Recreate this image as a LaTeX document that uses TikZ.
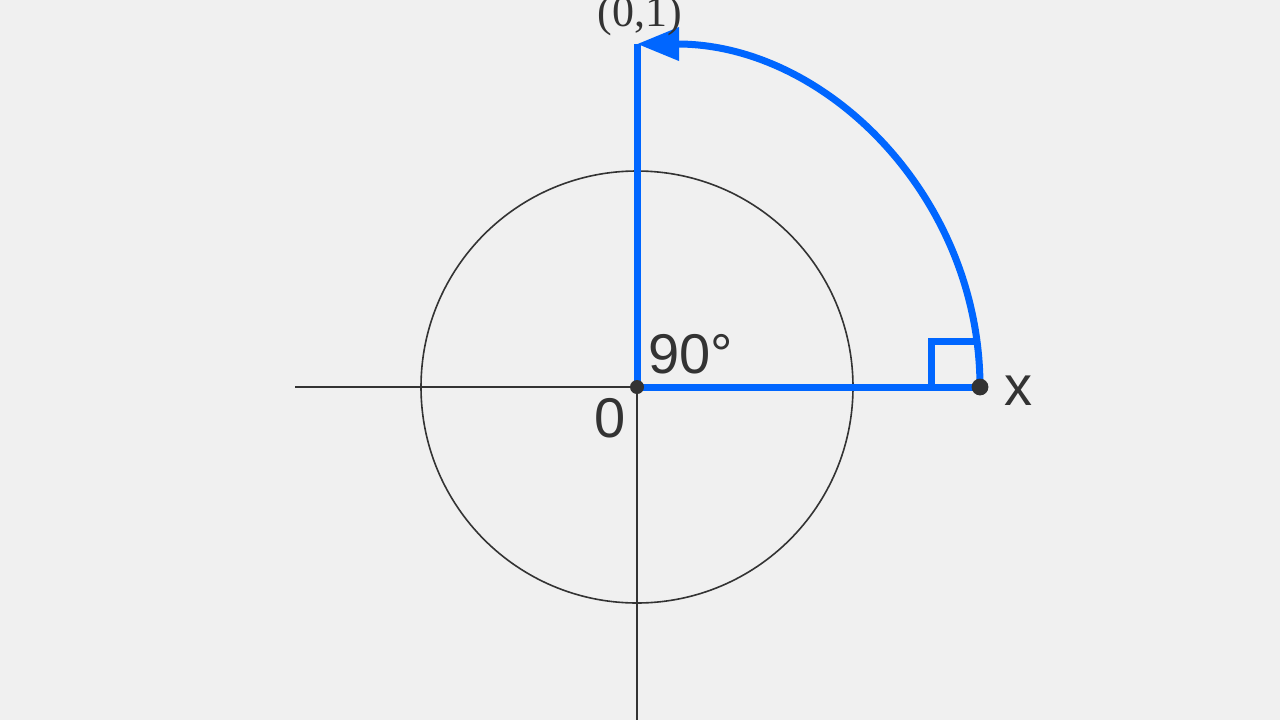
\documentclass[tikz,border=0pt]{standalone}
\usepackage{fontspec}
\setmainfont{Liberation Sans}
\newfontfamily\timesfont{Liberation Serif}
\usetikzlibrary{arrows.meta}
\definecolor{bg}{RGB}{240,240,240}
\definecolor{turnblue}{RGB}{0,102,255}
\definecolor{axisgray}{RGB}{51,51,51}

\begin{document}
\begin{tikzpicture}
[x=0.5pt,y=0.5pt,%
  axis/.style={draw=axisgray,line width=1.2pt},%
  turn/.style={draw=turnblue,line width=3.5pt},%
  label/.style={inner sep=0pt,text=axisgray,font=\fontsize{28}{32}\selectfont}]
\fill[bg] (0,0) rectangle (1280,720);
\useasboundingbox (0,0) rectangle (1280,720);
\coordinate (O) at (637,333);
\coordinate (X) at (980,333);
\coordinate (T) at (637,676);
\coordinate (L) at (295,333);
\coordinate (B) at (637,0);
% axes and unit circle
\draw[axis] (L) -- (O);
\draw[axis] (O) -- (B);
\draw[draw=axisgray,line width=0.8pt] (O) circle[radius=108pt];
% rotation by 90 degrees
\draw[turn] (O) -- (X);
\draw[turn] (O) -- (T);
\draw[turn,-{Triangle[length=21pt,width=16pt]}]
  (X) arc[start angle=0,end angle=90,radius=171.5pt];
\draw[turn,line join=miter] ([xshift=-24.5pt]X) |- ([xshift=-1.5pt,yshift=23pt]X);
\fill[axisgray] (O) circle[radius=3.5pt];
\fill[axisgray] (X) circle[radius=4.2pt];
% labels
\node[label,anchor=base west] (deg) at (648,347) {90°};
\node[label,anchor=base east] (zero) at (626,283) {0};
\node[label,anchor=base west] (xlab) at (1004,315) {x};
\node[inner sep=0pt,anchor=base,text=axisgray,font=\timesfont\fontsize{22}{26}\selectfont]
  (top) at (640,694) {(0,1)};
\end{tikzpicture}
\end{document}
